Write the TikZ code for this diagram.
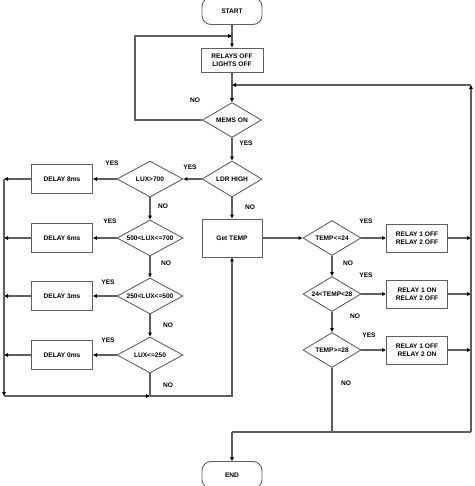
\documentclass[tikz,border=0pt]{standalone}
\usepackage{fontspec}
\setmainfont{Liberation Sans}
\usetikzlibrary{shapes.geometric,arrows.meta}
\definecolor{lc}{RGB}{95,95,95}
\newcommand{\fs}{\bfseries\fontsize{6.6}{7.7}\selectfont}
\begin{document}
\begin{tikzpicture}[x=1pt,y=-1pt,
  line/.style={draw=lc, line width=1.1pt},
  arr/.style={line, -{Triangle[length=4pt,width=3.5pt,color=black]}},
  box/.style={draw=lc, line width=0.9pt, minimum width=61pt, minimum height=29pt, inner sep=1pt, align=center, font=\fs},
  dia/.style={diamond, draw=lc, line width=0.9pt, aspect=1.8, inner sep=0pt, minimum width=66pt, minimum height=36pt, font=\fs},
  term/.style={draw=lc, line width=0.9pt, rounded corners=9pt, minimum width=60pt, minimum height=27pt, font=\fs},
  lab/.style={font=\fs}]
\useasboundingbox (0,0) rectangle (474,486);
% main column
\node[term] (start) at (232,11) {START};
\node[box, minimum width=62pt, minimum height=24pt] (relays) at (232,60) {RELAYS OFF\\LIGHTS OFF};
\node[dia, minimum width=59pt, minimum height=35pt] (mems) at (232,120) {MEMS ON};
\node[dia, minimum width=60pt] (ldr) at (232,179) {LDR HIGH};
\node[box, minimum width=60pt, minimum height=38pt] (get) at (232,238) {Get TEMP};
\node[term] (fin) at (232,475) {END};
% LUX column
\node[dia] (l1) at (150,179) {LUX>700};
\node[dia] (l2) at (150,238) {500<LUX<=700};
\node[dia] (l3) at (150,296) {250<LUX<=500};
\node[dia] (l4) at (150,355) {LUX<=250};
\node[box] (d1) at (62,179) {DELAY 8ms};
\node[box] (d2) at (62,238) {DELAY 6ms};
\node[box] (d3) at (62,296) {DELAY 3ms};
\node[box] (d4) at (62,355) {DELAY 0ms};
% TEMP column
\node[dia, minimum width=58pt, minimum height=35pt] (t1) at (332,238) {TEMP<=24};
\node[dia, minimum width=58pt, minimum height=35pt] (t2) at (332,294) {24<TEMP<28};
\node[dia, minimum width=58pt, minimum height=35pt] (t3) at (332,350) {TEMP>=28};
\node[box, minimum height=28pt] (r1) at (417,238) {RELAY 1 OFF\\RELAY 2 OFF};
\node[box, minimum height=28pt] (r2) at (417,294) {RELAY 1 ON\\RELAY 2 OFF};
\node[box, minimum height=28pt] (r3) at (417,350) {RELAY 1 OFF\\RELAY 2 ON};
% junction coordinates
\coordinate (jtop) at (232,36);
\coordinate (jr) at (232,85);
\coordinate (lb) at (135,120);
\coordinate (lt) at (135,36);
\coordinate (L1) at (4,179);
\coordinate (L2) at (4,238);
\coordinate (L3) at (4,296);
\coordinate (L4) at (4,355);
\coordinate (BL) at (4,396);
\coordinate (BM) at (150,396);
\coordinate (BR) at (232,396);
\coordinate (R1) at (471,238);
\coordinate (R2) at (471,294);
\coordinate (R3) at (471,350);
\coordinate (RB) at (471,432);
\coordinate (RT) at (471,85);
\coordinate (TB) at (332,432);
\coordinate (EL) at (232,432);
% connectors
\draw[arr] (start) -- (relays);
\draw[arr] (relays) -- (mems);
\draw[arr] (mems) -- (ldr);
\draw[arr] (mems.west) -- (lb) -- (lt) -- (jtop);
\draw[arr] (ldr) -- (l1);
\draw[arr] (ldr) -- (get);
\draw[arr] (l1) -- (d1);
\draw[arr] (l2) -- (d2);
\draw[arr] (l3) -- (d3);
\draw[arr] (l4) -- (d4);
\draw[arr] (l1) -- (l2);
\draw[arr] (l2) -- (l3);
\draw[arr] (l3) -- (l4);
\draw[arr] (d1.west) -- (L1);
\draw[arr] (d2.west) -- (L2);
\draw[arr] (d3.west) -- (L3);
\draw[arr] (d4.west) -- (L4);
\draw[arr] (L1) -- (BL);
\draw[arr] (BL) -- (BM);
\draw[line] (l4) -- (BM);
\draw[arr] (BM) -- (BR) -- (get);
\draw[arr] (get) -- (t1);
\draw[arr] (t1) -- (t2);
\draw[arr] (t2) -- (t3);
\draw[arr] (t1) -- (r1);
\draw[arr] (t2) -- (r2);
\draw[arr] (t3) -- (r3);
\draw[arr] (r1.east) -- (R1);
\draw[arr] (r2.east) -- (R2);
\draw[arr] (r3.east) -- (R3);
\draw[line] (t3) -- (TB);
\draw[line] (RB) -- (EL);
\draw[arr] (EL) -- (fin);
\draw[arr] (RB) -- (RT);
\draw[arr] (RT) -- (jr);
% labels
\node[lab] at (195,100) {NO};
\node[lab] at (246,143) {YES};
\node[lab] at (190,167) {YES};
\node[lab] at (250,207) {NO};
\node[lab] at (112,163) {YES};
\node[lab] at (163,206) {NO};
\node[lab] at (110,221) {YES};
\node[lab] at (166,263) {NO};
\node[lab] at (108,282) {YES};
\node[lab] at (168,325) {NO};
\node[lab] at (108,340) {YES};
\node[lab] at (168,385) {NO};
\node[lab] at (366,221) {YES};
\node[lab] at (348,263) {NO};
\node[lab] at (366,275) {YES};
\node[lab] at (355,316) {NO};
\node[lab] at (369,335) {YES};
\node[lab] at (346,383) {NO};
\end{tikzpicture}
\end{document}
